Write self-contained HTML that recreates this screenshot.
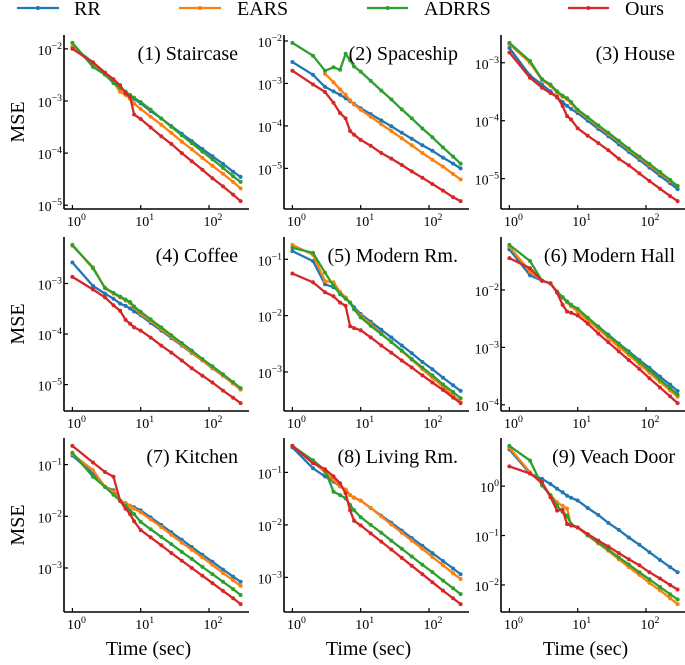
<!DOCTYPE html>
<html><head><meta charset="utf-8"><style>
body{margin:0;background:#fff;}
svg{display:block;font-family:"Liberation Serif",serif;}
</style></head><body>
<svg id="chart" width="685" height="665" viewBox="0 0 685 665" xmlns="http://www.w3.org/2000/svg"></svg>
<script>
const times = [1,2,3,4,5,6,7,8,10,14,20,28,40,56,80,112,160,225,290];
const seriesNames = ["RR","EARS","ADRRS","Ours"];
const panelTitles = ["(1) Staircase","(2) Spaceship","(3) House","(4) Coffee","(5) Modern Rm.","(6) Modern Hall","(7) Kitchen","(8) Living Rm.","(9) Veach Door"];
const xTickValues = [1,10,100];

const staircaseRR    = [1.1e-2,5.5e-3,3.3e-3,2.4e-3,1.8e-3,1.5e-3,1.25e-3,1.1e-3,9e-4,6.4e-4,4.6e-4,3.3e-4,2.35e-4,1.7e-4,1.2e-4,8.7e-5,6.2e-5,4.4e-5,3.5e-5];
const staircaseEARS  = [1.1e-2,5e-3,3.2e-3,2.3e-3,1.5e-3,1.3e-3,1.1e-3,9e-4,7e-4,5e-4,3.5e-4,2.45e-4,1.66e-4,1.18e-4,8.1e-5,5.7e-5,4e-5,2.8e-5,2.1e-5];
const staircaseADRRS = [1.3e-2,4.5e-3,3.2e-3,2.2e-3,1.8e-3,1.5e-3,1.3e-3,1.15e-3,9.5e-4,6.8e-4,4.6e-4,3.2e-4,2.2e-4,1.55e-4,1.07e-4,7.6e-5,5.2e-5,3.6e-5,2.8e-5];
const staircaseOurs  = [1.0e-2,5.5e-3,3.5e-3,2.6e-3,2e-3,1.4e-3,1.2e-3,5.5e-4,4.5e-4,3.1e-4,2.1e-4,1.5e-4,1e-4,7e-5,4.8e-5,3.3e-5,2.3e-5,1.6e-5,1.2e-5];

const spaceshipRR    = [3.2e-3,1.6e-3,8.3e-4,6.5e-4,5.4e-4,4.5e-4,3.8e-4,3.3e-4,2.6e-4,1.9e-4,1.35e-4,9.8e-5,6.9e-5,5e-5,3.5e-5,2.6e-5,1.8e-5,1.3e-5,1e-5];
const spaceshipEARS  = [null,null,1.7e-3,1.07e-3,7.2e-4,5.4e-4,4e-4,3.2e-4,2.4e-4,1.65e-4,1.1e-4,7.6e-5,5.1e-5,3.5e-5,2.3e-5,1.6e-5,1.1e-5,7.4e-6,5.5e-6];
const spaceshipADRRS = [9e-3,4.5e-3,2e-3,2.4e-3,2.1e-3,5e-3,3.5e-3,2.5e-3,1.9e-3,1.15e-3,6.8e-4,4.2e-4,2.45e-4,1.5e-4,8.7e-5,5.4e-5,3.1e-5,1.9e-5,1.3e-5];
const spaceshipOurs  = [2e-3,9.5e-4,6.3e-4,3.5e-4,2e-4,1.5e-4,7.6e-5,6.2e-5,4.7e-5,3.4e-5,2.3e-5,1.7e-5,1.2e-5,8.5e-6,6e-6,4.3e-6,3e-6,2.1e-6,1.7e-6];

const houseRR    = [1.8e-3,6e-4,4.2e-4,3.2e-4,2.5e-4,2.1e-4,1.8e-4,1.6e-4,1.35e-4,1e-4,7.2e-5,5.4e-5,3.9e-5,2.9e-5,2.1e-5,1.55e-5,1.12e-5,8.3e-6,6.6e-6];
const houseEARS  = [2.1e-3,1.0e-3,5e-4,4e-4,3.05e-4,2.6e-4,2.35e-4,2e-4,1.48e-4,1.1e-4,7.9e-5,5.9e-5,4.3e-5,3.15e-5,2.3e-5,1.7e-5,1.24e-5,9.1e-6,7.6e-6];
const houseADRRS = [2.2e-3,1.07e-3,5.2e-4,4.2e-4,3.2e-4,2.7e-4,2.45e-4,2.1e-4,1.55e-4,1.15e-4,8.3e-5,6.2e-5,4.5e-5,3.3e-5,2.4e-5,1.8e-5,1.3e-5,9.5e-6,7.4e-6];
const houseOurs  = [1.5e-3,5.5e-4,3.7e-4,3e-4,2.6e-4,1.8e-4,1.2e-4,1.05e-4,7.4e-5,5.5e-5,4.1e-5,3.1e-5,2.2e-5,1.7e-5,1.23e-5,9.1e-6,6.7e-6,5e-6,4.1e-6];

const coffeeRR    = [2.6e-3,8.9e-4,6.3e-4,5e-4,4e-4,3.6e-4,3.2e-4,2.8e-4,2.35e-4,1.66e-4,1.17e-4,8.3e-5,5.9e-5,4.2e-5,3e-5,2.1e-5,1.5e-5,1.05e-5,8e-6];
const coffeeEARS  = [5.6e-3,2.1e-3,8e-4,6.3e-4,5.3e-4,4.6e-4,4.1e-4,3.3e-4,2.5e-4,1.8e-4,1.25e-4,8.8e-5,6.1e-5,4.3e-5,3e-5,2.15e-5,1.5e-5,1.05e-5,8e-6];
const coffeeADRRS = [5.8e-3,2e-3,8.2e-4,6.5e-4,5.5e-4,4.8e-4,4.3e-4,3.5e-4,2.75e-4,1.95e-4,1.35e-4,9.5e-5,6.6e-5,4.7e-5,3.2e-5,2.3e-5,1.6e-5,1.12e-5,8.5e-6];
const coffeeOurs  = [1.35e-3,7.6e-4,5.3e-4,3.7e-4,2.9e-4,1.9e-4,1.6e-4,1.35e-4,1.17e-4,8.5e-5,5.9e-5,4.3e-5,3e-5,2.1e-5,1.5e-5,1.1e-5,7.6e-6,5.5e-6,4.3e-6];

const modernRmRR    = [0.14,0.093,0.036,0.032,0.026,0.021,0.017,0.014,0.0107,7.8e-3,5.6e-3,4.1e-3,2.95e-3,2.15e-3,1.5e-3,1.12e-3,7.9e-4,5.8e-4,4.6e-4];
const modernRmEARS  = [0.18,0.12,0.041,0.039,0.026,0.021,0.017,0.013,0.01,7.1e-3,4.8e-3,3.4e-3,2.35e-3,1.65e-3,1.12e-3,7.9e-4,5.5e-4,3.8e-4,2.9e-4];
const modernRmADRRS = [0.16,0.13,0.058,0.034,0.024,0.02,0.017,0.013,9.3e-3,6.6e-3,4.7e-3,3.4e-3,2.4e-3,1.7e-3,1.2e-3,8.7e-4,6e-4,4.4e-4,3.4e-4];
const modernRmOurs  = [0.056,0.039,0.026,0.022,0.017,0.015,6.5e-3,6e-3,5.5e-3,4.1e-3,2.95e-3,2.2e-3,1.6e-3,1.2e-3,8.7e-4,6.5e-4,4.8e-4,3.5e-4,2.8e-4];

const modernHallRR    = [0.051,0.018,0.0145,0.013,9.3e-3,7.5e-3,6.3e-3,5.5e-3,4.5e-3,3.2e-3,2.3e-3,1.66e-3,1.17e-3,8.5e-4,6e-4,4.4e-4,3.1e-4,2.25e-4,1.74e-4];
const modernHallEARS  = [0.057,0.021,0.0145,0.013,9.3e-3,7.3e-3,6.1e-3,5.2e-3,4.2e-3,2.95e-3,2.1e-3,1.48e-3,1.02e-3,7.4e-4,5.1e-4,3.6e-4,2.5e-4,1.78e-4,1.38e-4];
const modernHallADRRS = [0.061,0.032,0.0145,0.013,9.3e-3,7.5e-3,6.3e-3,5.5e-3,4.7e-3,3.3e-3,2.3e-3,1.62e-3,1.15e-3,8.1e-4,5.6e-4,4e-4,2.75e-4,1.95e-4,1.5e-4];
const modernHallOurs  = [0.036,0.024,0.0145,0.013,9e-3,5.5e-3,4.2e-3,4e-3,3.6e-3,2.6e-3,1.74e-3,1.23e-3,8.5e-4,6e-4,4.2e-4,2.9e-4,2e-4,1.4e-4,1.07e-4];

const kitchenRR    = [0.15,0.067,0.037,0.032,0.02,0.018,0.016,0.015,0.013,9.5e-3,6.8e-3,4.9e-3,3.5e-3,2.55e-3,1.8e-3,1.32e-3,9.3e-4,6.8e-4,5.4e-4];
const kitchenEARS  = [0.16,0.078,0.037,0.03,0.02,0.018,0.016,0.014,0.012,8.7e-3,6.2e-3,4.4e-3,3.1e-3,2.25e-3,1.6e-3,1.15e-3,8e-4,5.8e-4,4.5e-4];
const kitchenADRRS = [0.17,0.058,0.037,0.026,0.02,0.016,0.013,0.011,7.8e-3,5.6e-3,4e-3,2.9e-3,2.05e-3,1.5e-3,1.05e-3,7.6e-4,5.4e-4,3.9e-4,3e-4];
const kitchenOurs  = [0.23,0.11,0.072,0.058,0.02,0.014,0.011,8e-3,5.4e-3,3.9e-3,2.75e-3,1.95e-3,1.38e-3,1e-3,7.1e-4,5.1e-4,3.6e-4,2.6e-4,2e-4];

const livingRmRR    = [0.3,0.12,0.084,0.067,0.054,0.047,0.037,0.033,0.029,0.021,0.015,0.011,7.8e-3,5.6e-3,4e-3,2.9e-3,2.05e-3,1.48e-3,1.15e-3];
const livingRmEARS  = [0.32,0.16,0.1,0.072,0.054,0.047,0.037,0.033,0.029,0.021,0.0145,0.0102,7.1e-3,5e-3,3.5e-3,2.45e-3,1.7e-3,1.2e-3,9.3e-4];
const livingRmADRRS = [0.32,0.17,0.11,0.043,0.037,0.032,0.024,0.019,0.014,0.01,7.1e-3,5e-3,3.5e-3,2.5e-3,1.74e-3,1.26e-3,8.7e-4,6.2e-4,4.8e-4];
const livingRmOurs  = [0.32,0.15,0.115,0.084,0.062,0.04,0.019,0.012,9.8e-3,6.9e-3,4.8e-3,3.4e-3,2.35e-3,1.66e-3,1.15e-3,8.1e-4,5.6e-4,4e-4,3.1e-4];

const veachRR    = [5.5,1.8,1.4,1.1,0.88,0.75,0.64,0.58,0.51,0.36,0.26,0.18,0.13,0.091,0.065,0.046,0.032,0.023,0.018];
const veachEARS  = [6,1.9,1.1,0.65,0.47,0.4,0.35,0.16,0.145,0.1,0.069,0.049,0.033,0.023,0.016,0.011,7.8e-3,5.4e-3,4.1e-3];
const veachADRRS = [6.5,3.3,1.03,0.65,0.4,0.3,0.25,0.17,0.145,0.102,0.072,0.052,0.036,0.026,0.018,0.013,9.1e-3,6.5e-3,5.1e-3];
const veachOurs  = [2.5,1.8,1.2,0.6,0.32,0.33,0.17,0.16,0.145,0.107,0.079,0.06,0.044,0.033,0.025,0.018,0.0135,0.01,8.1e-3];

const panels = [
  [staircaseRR,staircaseEARS,staircaseADRRS,staircaseOurs],
  [spaceshipRR,spaceshipEARS,spaceshipADRRS,spaceshipOurs],
  [houseRR,houseEARS,houseADRRS,houseOurs],
  [coffeeRR,coffeeEARS,coffeeADRRS,coffeeOurs],
  [modernRmRR,modernRmEARS,modernRmADRRS,modernRmOurs],
  [modernHallRR,modernHallEARS,modernHallADRRS,modernHallOurs],
  [kitchenRR,kitchenEARS,kitchenADRRS,kitchenOurs],
  [livingRmRR,livingRmEARS,livingRmADRRS,livingRmOurs],
  [veachRR,veachEARS,veachADRRS,veachOurs]
];

const colors = ["#1f77b4","#ff7f0e","#2ca02c","#d62728"];
const colLeft = [64,284,501], rowTop = [35,237,438], W = 185, H = 174;
const NS = "http://www.w3.org/2000/svg";
const svg = document.getElementById("chart");
function mk(tag, attrs, parent){ const e=document.createElementNS(NS,tag); for(const k in attrs) e.setAttribute(k,attrs[k]); (parent||svg).appendChild(e); return e; }
function pow10Label(parent, x, y, exp, anchor, size){
  const t = mk("text",{x:x,y:y,"text-anchor":anchor,"font-size":size,fill:"#000"},parent);
  t.appendChild(document.createTextNode("10"));
  const s = mk("tspan",{dy:-6,"font-size":size*0.7},t);
  s.textContent = exp < 0 ? "\u2212"+(-exp) : String(exp);
  return t;
}

// legend
const legend = mk("g",{});


const legX = [[17,59,74],[179,221,237],[367,408,424],[568,609,625]];
seriesNames.forEach((n,i)=>{
  const g = mk("g",{},legend);
  
  
  mk("line",{x1:legX[i][0],x2:legX[i][1],y1:8,y2:8,stroke:colors[i],"stroke-width":2.3},g);
  mk("circle",{cx:(legX[i][0]+legX[i][1])/2,cy:8,r:2,fill:colors[i]},g);
  const t = mk("text",{x:legX[i][2],y:15,"font-size":20},g);
  t.textContent = n;
});

panels.forEach((series,p)=>{
  const r = Math.floor(p/3), c = p%3;
  const L = colLeft[c], T = rowTop[r];
  const g = mk("g",{});
  
  
  let lo=Infinity, hi=-Infinity;
  series.forEach(s=>s.forEach(v=>{ if(v!=null){ const l=Math.log10(v); lo=Math.min(lo,l); hi=Math.max(hi,l);} }));
  const sp = hi-lo; const y0 = lo-0.05*sp, y1 = hi+0.05*sp;
  const xl0 = Math.log10(times[0]), xl1 = Math.log10(times[times.length-1]);
  const xs = xl1-xl0; const x0 = xl0-0.05*xs, x1 = xl1+0.05*xs;
  const X = t => L + (Math.log10(t)-x0)/(x1-x0)*W;
  const Y = v => T + H - (Math.log10(v)-y0)/(y1-y0)*H;
  series.forEach((s,i)=>{
    const pts=[]; s.forEach((v,k)=>{ if(v!=null) pts.push([X(times[k]),Y(v)]); });
    const path = mk("polyline",{points:pts.map(q=>q[0].toFixed(1)+","+q[1].toFixed(1)).join(" "),fill:"none",stroke:colors[i],"stroke-width":2.3,"stroke-linejoin":"round"},g);
    
    
    pts.forEach(q=>mk("circle",{cx:q[0].toFixed(1),cy:q[1].toFixed(1),r:2,fill:colors[i]},g));
  });
  const ax = mk("g",{},g);
  
  
  mk("line",{x1:L,x2:L,y1:T,y2:T+H,stroke:"#000","stroke-width":1.6},ax);
  mk("line",{x1:L,x2:L+W,y1:T+H,y2:T+H,stroke:"#000","stroke-width":1.6},ax);
  for(let e=Math.ceil(y0); e<=Math.floor(y1); e++){
    const y = Y(Math.pow(10,e));
    mk("line",{x1:L,x2:L+4,y1:y,y2:y,stroke:"#000","stroke-width":1.2},ax);
    const lab = pow10Label(ax, L-2, y+6, e, "end", 14);
    
    
  }
  xTickValues.forEach(v=>{
    const x = X(v);
    mk("line",{x1:x,x2:x,y1:T+H,y2:T+H-4,stroke:"#000","stroke-width":1.2},ax);
    const lab = pow10Label(ax, x+4, T+H+17, Math.round(Math.log10(v)), "middle", 14);
    
    
  });
  const tt = mk("text",{x:L+W-11,y:T+25,"text-anchor":"end","font-size":20},g);
  tt.textContent = panelTitles[p];
  
  
  if(c===0){
    const yl = mk("text",{x:0,y:0,"text-anchor":"middle","font-size":20,transform:"translate(24,"+(T+H/2)+") rotate(-90)"},g);
    yl.textContent="MSE";
    
    
  }
  if(r===2){
    const xlab = mk("text",{x:L+W/2-8,y:655,"text-anchor":"middle","font-size":20},g);
    xlab.textContent="Time (sec)";
    
    
  }
});
</script>
</body></html>
